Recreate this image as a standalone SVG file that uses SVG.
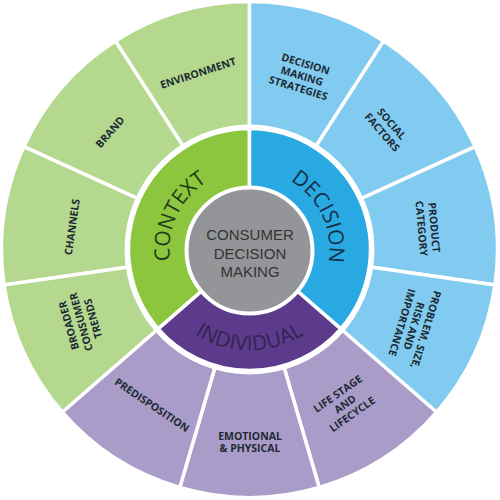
<svg xmlns="http://www.w3.org/2000/svg" width="500" height="500" viewBox="0 0 500 500">
<style>
.seg{stroke:#fff;stroke-width:3.5;stroke-linejoin:round}
.og{fill:#b3d88e}.mg{fill:#8cc63f}
.ob{fill:#80cbef}.mb{fill:#29a9e1}
.op{fill:#a99cc8}.mp{fill:#5d3b8c}
.lbl{font-family:"Open Sans","Liberation Sans",sans-serif;font-weight:700;font-size:10.5px;fill:#1d2a33;text-anchor:middle}
.mid{font-family:"Open Sans","Liberation Sans",sans-serif;font-weight:400;font-size:21px;text-anchor:middle}
.ctr{font-family:"Liberation Sans",Arial,sans-serif;font-weight:400;font-size:15px;fill:#333;text-anchor:middle}
</style>
<defs>
<path id="pContext" d="M 180.22 289.5 A 80 80 0 0 1 235.61 170.72"/>
<path id="pDecision" d="M 263.39 170.72 A 80 80 0 0 1 318.78 289.5"/>
<path id="pIndividual" d="M 184.58 326.87 A 101 101 0 0 0 314.42 326.87"/>
</defs>
<g id="outer-ring">
<g id="environment"><path class="seg og" d="M249.5 249.5 L115.34 40.92 A248 248 0 0 1 249.5 1.5 Z"/>
<text class="lbl" transform="translate(198,73) rotate(-18)" y="3.8">ENVIRONMENT</text></g>
<g id="brand"><path class="seg og" d="M249.5 249.5 L23.82 146.66 A248 248 0 0 1 115.34 40.92 Z"/>
<text class="lbl" transform="translate(110,132) rotate(-49)" y="3.8">BRAND</text></g>
<g id="channels"><path class="seg og" d="M249.5 249.5 L4.07 285.09 A248 248 0 0 1 23.82 146.66 Z"/>
<text class="lbl" transform="translate(72,227) rotate(-82)" y="3.8">CHANNELS</text></g>
<g id="broader-consumer-trends"><path class="seg og" d="M249.5 249.5 L62.33 412.2 A248 248 0 0 1 4.07 285.09 Z"/>
<text class="lbl" transform="translate(81,322) rotate(-106)"><tspan x="0" y="-8.9">BROADER</tspan><tspan x="0" y="3.8">CONSUMER</tspan><tspan x="0" y="16.3">TRENDS</tspan></text></g>
<g id="decision-making-strategies"><path class="seg ob" d="M249.5 249.5 L249.5 1.5 A248 248 0 0 1 383.66 40.92 Z"/>
<text class="lbl" transform="translate(302,76) rotate(17)"><tspan x="0" y="-8.9">DECISION</tspan><tspan x="0" y="3.8">MAKING</tspan><tspan x="0" y="16.3">STRATEGIES</tspan></text></g>
<g id="social-factors"><path class="seg ob" d="M249.5 249.5 L383.66 40.92 A248 248 0 0 1 475.18 146.66 Z"/>
<text class="lbl" transform="translate(387,128) rotate(49)"><tspan x="0" y="-2.5">SOCIAL</tspan><tspan x="0" y="10.2">FACTORS</tspan></text></g>
<g id="product-category"><path class="seg ob" d="M249.5 249.5 L475.18 146.66 A248 248 0 0 1 494.93 285.09 Z"/>
<text class="lbl" transform="translate(428,228) rotate(85)"><tspan x="0" y="-2.5">PRODUCT</tspan><tspan x="0" y="10.2">CATEGORY</tspan></text></g>
<g id="problem-size-risk"><path class="seg ob" d="M249.5 249.5 L494.93 285.09 A248 248 0 0 1 436.67 412.2 Z"/>
<text class="lbl" transform="translate(414,326) rotate(107)"><tspan x="0" y="-8.9">PROBLEM, SIZE,</tspan><tspan x="0" y="3.8">RISK AND</tspan><tspan x="0" y="16.3">IMPORTANCE</tspan></text></g>
<g id="life-stage"><path class="seg op" d="M249.5 249.5 L436.67 412.2 A248 248 0 0 1 319.23 487.5 Z"/>
<text class="lbl" transform="translate(345,404) rotate(-35)"><tspan x="0" y="-8.9">LIFE STAGE</tspan><tspan x="0" y="3.8">AND</tspan><tspan x="0" y="16.3">LIFECYCLE</tspan></text></g>
<g id="emotional-physical"><path class="seg op" d="M249.5 249.5 L319.23 487.5 A248 248 0 0 1 179.77 487.5 Z"/>
<text class="lbl" transform="translate(250,442)"><tspan x="0" y="-2.5">EMOTIONAL</tspan><tspan x="0" y="10.2">&amp; PHYSICAL</tspan></text></g>
<g id="predisposition"><path class="seg op" d="M249.5 249.5 L179.77 487.5 A248 248 0 0 1 62.33 412.2 Z"/>
<text class="lbl" transform="translate(152,405) rotate(34)" y="3.8">PREDISPOSITION</text></g>
</g>
<circle cx="249.5" cy="249.5" r="125" fill="#fff"/>
<g id="middle-ring">
<g id="context"><path class="seg mg" d="M249.5 249.5 L158.18 328.88 A121 121 0 0 1 249.5 128.5 Z"/>
<text class="mid" fill="#223a17"><textPath href="#pContext" startOffset="50%">CONTEXT</textPath></text></g>
<g id="decision"><path class="seg mb" d="M249.5 249.5 L249.5 128.5 A121 121 0 0 1 340.82 328.88 Z"/>
<text class="mid" fill="#15304a"><textPath href="#pDecision" startOffset="50%">DECISION</textPath></text></g>
<g id="individual"><path class="seg mp" d="M249.5 249.5 L340.82 328.88 A121 121 0 0 1 158.18 328.88 Z"/>
<text class="mid" fill="#33244f"><textPath href="#pIndividual" startOffset="50%">INDIVIDUAL</textPath></text></g>
</g>
<g id="consumer-decision-making">
<circle cx="249.5" cy="250.5" r="63" fill="#939598" stroke="#fff" stroke-width="4"/>
<text class="ctr"><tspan x="250" y="240">CONSUMER</tspan><tspan x="250" y="258.5">DECISION</tspan><tspan x="250" y="277">MAKING</tspan></text>
</g>
<g id="connectors"/>
</svg>
